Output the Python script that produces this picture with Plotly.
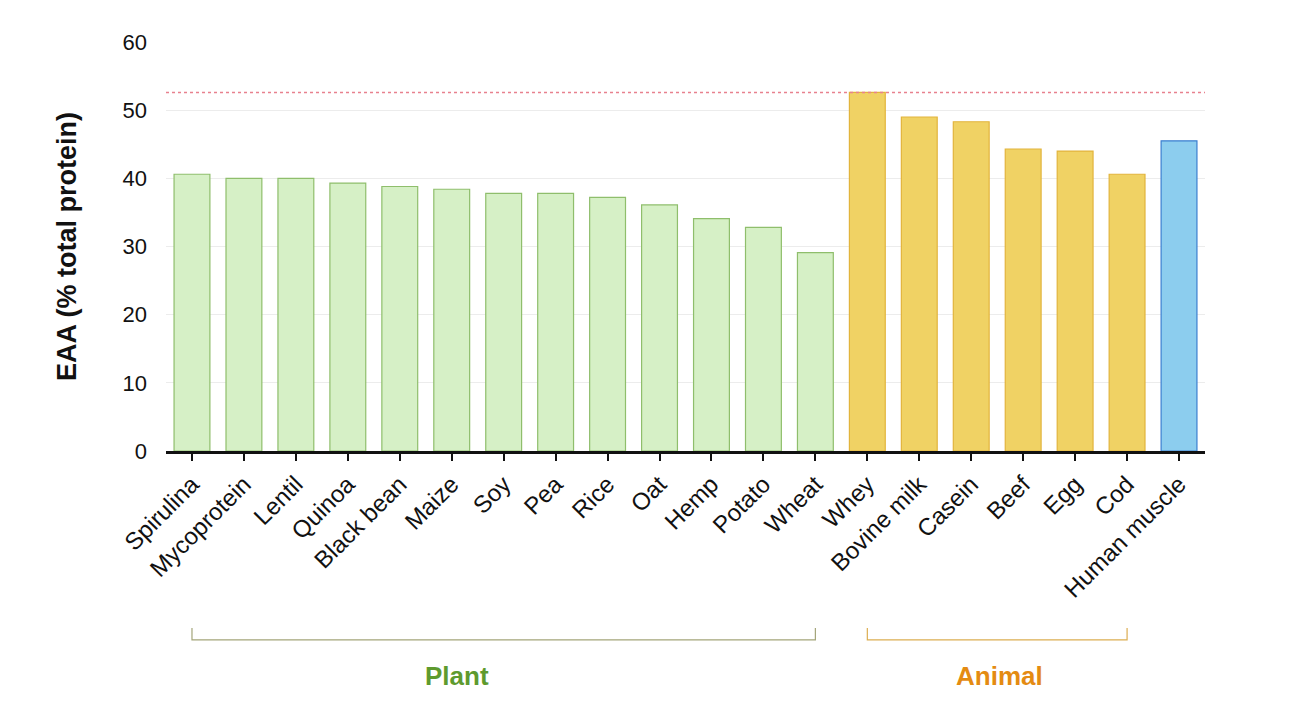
import plotly.graph_objects as go

categories = ["Spirulina", "Mycoprotein", "Lentil", "Quinoa", "Black bean", "Maize", "Soy",
              "Pea", "Rice", "Oat", "Hemp", "Potato", "Wheat",
              "Whey", "Bovine milk", "Casein", "Beef", "Egg", "Cod",
              "Human muscle"]
groups = ["plant"] * 13 + ["animal"] * 6 + ["human"]
values = [40.6, 40.0, 40.0, 39.3, 38.8, 38.4, 37.8, 37.8, 37.2, 36.1, 34.1, 32.8, 29.1,
          52.6, 49.0, 48.3, 44.3, 44.0, 40.6, 45.5]
reference_line = 52.6
y_ticks = [0, 10, 20, 30, 40, 50, 60]

fill = {"plant": "#d6f0c6", "animal": "#f0d264", "human": "#8ccdee"}
edge = {"plant": "#8fbe6c", "animal": "#e2b43c", "human": "#3a7fd0"}

fig = go.Figure()
fig.add_trace(go.Bar(
    x=list(range(len(categories))), y=values,
    marker=dict(color=[fill[g] for g in groups],
                line=dict(color=[edge[g] for g in groups], width=1.2)),
    hoverinfo="x+y",
))

# reference dashed line
fig.add_shape(type="line", xref="paper", yref="y", x0=0, x1=1,
              y0=reference_line, y1=reference_line,
              line=dict(color="#e8818e", width=1.5, dash="dot"))

# group brackets
def bracket(i0, i1, color):
    fig.add_shape(type="path", xref="x", yref="paper",
                  path=f"M {i0},-0.433 L {i0},-0.462 L {i1},-0.462 L {i1},-0.433",
                  line=dict(color=color, width=1.2))

bracket(0, 12, "#a4a57a")
bracket(13, 18, "#dcae52")

fig.add_annotation(x=5.1, y=-0.55, xref="x", yref="paper", text="<b>Plant</b>",
                   yanchor="middle", xanchor="center",
                   showarrow=False, font=dict(size=26, color="#5e9a2e", family="Liberation Sans"))
fig.add_annotation(x=15.55, y=-0.55, xref="x", yref="paper", text="<b>Animal</b>",
                   yanchor="middle", xanchor="center",
                   showarrow=False, font=dict(size=26, color="#e48b12", family="Liberation Sans"))

fig.update_layout(
    width=1298, height=715,
    margin=dict(l=158, r=101, t=34, b=272),
    paper_bgcolor="white", plot_bgcolor="white",
    bargap=0.31,
    showlegend=False,
    font=dict(family="Liberation Sans", color="#111111"),
    xaxis=dict(
        range=[-0.5, 19.5],
        tickmode="array", tickvals=list(range(len(categories))), ticktext=categories,
        tickangle=-45, tickfont=dict(size=24, color="#111111"),
        showline=True, linecolor="#111111", linewidth=2.5,
        ticks="outside", ticklen=7, tickwidth=1.5, tickcolor="#111111",
        showgrid=False, zeroline=False,
    ),
    yaxis=dict(
        range=[0, 60], tickmode="array", tickvals=y_ticks,
        tickfont=dict(size=22, color="#111111"),
        showgrid=True, gridcolor="#ececec", gridwidth=1,
        zeroline=False, showline=False, ticks="",
        ticklabelstandoff=18,
        title=dict(text="<b>EAA (% total protein)</b>", font=dict(size=27, color="#111111"),
                   standoff=38),
    ),
)

fig.write_html("out.html")
